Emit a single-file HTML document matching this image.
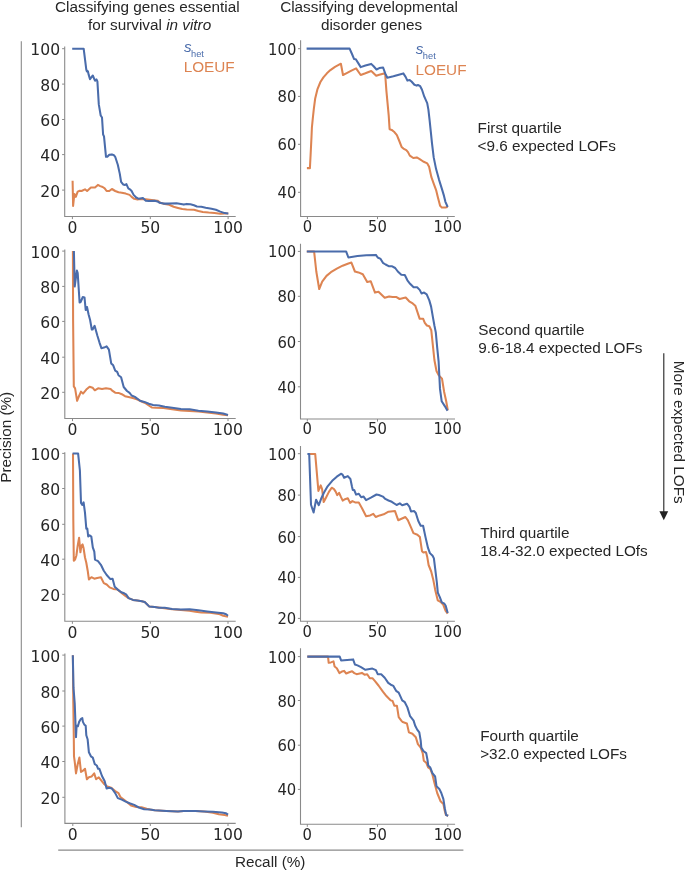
<!DOCTYPE html>
<html><head><meta charset="utf-8"><title>Precision-recall figure</title>
<style>
html,body{margin:0;padding:0;background:#fff;}
body{width:685px;height:871px;overflow:hidden;}
svg{display:block;}
.tk{font-family:"DejaVu Sans",sans-serif;font-size:14.8px;fill:#262626;}
.lb{font-family:"Liberation Sans",Arial,sans-serif;font-size:15.3px;fill:#262626;}
</style></head><body>
<svg width="685" height="871" viewBox="0 0 685 871">
<rect width="685" height="871" fill="#fff"/>
<g>
<path d="M64.7,46.6V216.5H235.7" fill="none" stroke="#8a8a8a" stroke-width="1.1"/>
<path d="M72.4,216.5v2.6M150.3,216.5v2.6M228.1,216.5v2.6M64.7,48.7h-2.6M64.7,84.1h-2.6M64.7,119.5h-2.6M64.7,154.6h-2.6M64.7,190.1h-2.6" stroke="#8a8a8a" stroke-width="1"/>
<text class="tk" transform="translate(72.4,233.3) scale(1,1.06)" style="font-size:15.6px" text-anchor="middle">0</text>
<text class="tk" transform="translate(150.3,233.3) scale(1,1.06)" style="font-size:15.6px" text-anchor="middle">50</text>
<text class="tk" transform="translate(228.1,233.3) scale(1,1.06)" style="font-size:15.6px" text-anchor="middle">100</text>
<text class="tk" transform="translate(60.1,55.2) scale(1,1.06)" style="font-size:15.6px" text-anchor="end">100</text>
<text class="tk" transform="translate(60.1,90.6) scale(1,1.06)" style="font-size:15.6px" text-anchor="end">80</text>
<text class="tk" transform="translate(60.1,126.0) scale(1,1.06)" style="font-size:15.6px" text-anchor="end">60</text>
<text class="tk" transform="translate(60.1,161.1) scale(1,1.06)" style="font-size:15.6px" text-anchor="end">40</text>
<text class="tk" transform="translate(60.1,196.6) scale(1,1.06)" style="font-size:15.6px" text-anchor="end">20</text>
<polyline points="72.6,180.8 73.1,206.0 74.4,194.0 75.8,196.9 77.7,191.6 79.8,190.7 81.5,191.0 85.0,189.3 87.1,191.0 90.9,187.5 95.0,187.5 97.9,184.9 100.2,186.1 102.7,187.0 104.7,188.3 106.6,191.0 109.3,191.0 111.9,189.0 115.2,191.0 118.5,192.3 121.8,192.7 125.7,193.6 129.6,194.9 131.6,196.9 134.2,198.8 137.5,199.5 140.0,198.9 145.8,199.2 151.7,199.9 157.5,200.7 160.4,202.8 164.8,203.9 169.2,204.7 173.6,206.8 178.0,208.0 182.3,209.1 186.7,209.4 194.0,209.7 198.4,210.9 202.8,211.9 208.6,212.6 214.5,213.1 220.3,213.8 224.7,213.5 228.3,213.4" fill="none" stroke="#DD8452" stroke-width="2.05" stroke-linejoin="round" stroke-linecap="butt"/>
<polyline points="72.2,48.8 83.7,48.8 86.3,69.6 86.9,71.5 87.9,71.3 88.6,74.4 90.0,79.2 91.3,77.4 92.8,75.5 94.4,79.4 95.2,80.7 96.5,79.4 97.4,81.4 98.8,104.4 100.7,115.5 102.0,117.5 103.1,134.5 104.0,136.4 106.0,156.8 107.3,156.8 109.3,154.8 111.9,154.4 113.9,155.2 115.2,156.8 117.8,164.7 119.8,173.9 121.1,181.8 123.1,184.4 125.0,185.0 126.4,184.1 128.3,188.3 130.3,189.6 131.6,191.0 133.6,194.9 136.2,197.5 138.8,198.8 142.9,198.0 145.8,200.7 148.8,201.0 154.6,200.7 157.5,201.4 159.7,202.8 163.4,203.6 169.2,203.6 176.5,203.3 180.9,203.9 183.8,204.6 186.7,203.9 190.4,204.3 194.0,205.3 196.9,206.5 201.3,206.8 205.7,207.7 211.5,208.7 215.9,209.7 220.3,211.6 224.7,213.1 228.3,213.4" fill="none" stroke="#4A6CAB" stroke-width="2.05" stroke-linejoin="round" stroke-linecap="butt"/>
</g>
<g>
<path d="M300.6,40.2V216.5H454.8" fill="none" stroke="#8a8a8a" stroke-width="1.1"/>
<path d="M307.4,216.5v2.6M377.5,216.5v2.6M447.7,216.5v2.6M300.6,48.7h-2.6M300.6,96.4h-2.6M300.6,144.3h-2.6M300.6,192.3h-2.6" stroke="#8a8a8a" stroke-width="1"/>
<text class="tk" transform="translate(307.4,231.9) scale(1,1.04)" style="font-size:14.8px" text-anchor="middle">0</text>
<text class="tk" transform="translate(377.5,231.9) scale(1,1.04)" style="font-size:14.8px" text-anchor="middle">50</text>
<text class="tk" transform="translate(447.7,231.9) scale(1,1.04)" style="font-size:14.8px" text-anchor="middle">100</text>
<text class="tk" transform="translate(296.3,54.7) scale(1,1.04)" style="font-size:14.8px" text-anchor="end">100</text>
<text class="tk" transform="translate(296.3,102.4) scale(1,1.04)" style="font-size:14.8px" text-anchor="end">80</text>
<text class="tk" transform="translate(296.3,150.3) scale(1,1.04)" style="font-size:14.8px" text-anchor="end">60</text>
<text class="tk" transform="translate(296.3,198.3) scale(1,1.04)" style="font-size:14.8px" text-anchor="end">40</text>
<polyline points="306.9,168.1 309.9,168.1 310.6,155.0 311.5,136.7 311.9,127.5 312.8,118.3 313.8,109.2 315.2,98.4 317.5,89.1 320.4,82.0 323.4,77.4 326.9,73.3 330.4,70.1 335.0,66.9 340.9,63.7 343.0,75.0 346.7,73.1 351.4,70.6 356.1,68.4 360.7,75.0 365.4,73.3 371.2,71.0 371.8,71.6 376.2,75.8 379.3,74.8 384.0,73.4 385.2,74.5 386.4,90.9 387.5,102.6 388.7,115.4 389.6,129.3 391.7,129.9 394.0,131.7 396.9,135.2 399.3,141.0 401.6,146.9 403.4,148.6 406.3,150.1 408.0,152.1 409.8,155.6 413.3,158.0 416.8,157.4 419.7,159.1 423.2,161.5 427.3,163.4 429.1,166.7 431.4,177.2 433.7,183.7 436.1,190.1 437.8,197.1 440.1,205.8 441.9,207.6 445.4,207.4 447.7,207.0" fill="none" stroke="#DD8452" stroke-width="2.05" stroke-linejoin="round" stroke-linecap="butt"/>
<polyline points="306.6,48.6 349.6,48.6 352.0,54.0 354.0,58.9 355.8,59.3 358.4,63.4 360.7,67.1 365.4,65.5 371.2,63.9 373.6,66.3 376.5,69.5 379.3,68.1 383.1,67.5 385.2,73.4 387.3,77.8 393.4,76.3 403.3,73.4 405.6,76.9 407.4,80.6 409.7,80.1 411.5,81.5 414.4,84.8 416.7,85.6 417.9,85.0 420.2,86.2 422.0,89.7 424.3,96.7 427.2,103.1 428.4,109.6 429.6,120.1 430.8,131.7 432.0,143.4 433.7,157.4 436.1,169.1 439.0,179.6 441.9,188.9 444.0,195.9 445.4,201.8 447.7,207.0" fill="none" stroke="#4A6CAB" stroke-width="2.05" stroke-linejoin="round" stroke-linecap="butt"/>
</g>
<g>
<path d="M64.8,249.6V418.5H235.7" fill="none" stroke="#8a8a8a" stroke-width="1.1"/>
<path d="M72.5,418.5v2.6M150.2,418.5v2.6M228.0,418.5v2.6M64.8,251.1h-2.6M64.8,286.4h-2.6M64.8,321.4h-2.6M64.8,357.2h-2.6M64.8,392.3h-2.6" stroke="#8a8a8a" stroke-width="1"/>
<text class="tk" transform="translate(72.5,435.3) scale(1,1.06)" style="font-size:15.6px" text-anchor="middle">0</text>
<text class="tk" transform="translate(150.2,435.3) scale(1,1.06)" style="font-size:15.6px" text-anchor="middle">50</text>
<text class="tk" transform="translate(228.0,435.3) scale(1,1.06)" style="font-size:15.6px" text-anchor="middle">100</text>
<text class="tk" transform="translate(60.2,257.6) scale(1,1.06)" style="font-size:15.6px" text-anchor="end">100</text>
<text class="tk" transform="translate(60.2,292.9) scale(1,1.06)" style="font-size:15.6px" text-anchor="end">80</text>
<text class="tk" transform="translate(60.2,327.9) scale(1,1.06)" style="font-size:15.6px" text-anchor="end">60</text>
<text class="tk" transform="translate(60.2,363.7) scale(1,1.06)" style="font-size:15.6px" text-anchor="end">40</text>
<text class="tk" transform="translate(60.2,398.8) scale(1,1.06)" style="font-size:15.6px" text-anchor="end">20</text>
<polyline points="72.9,251.1 73.1,320.0 73.8,386.4 75.1,388.3 77.1,400.8 78.4,397.5 81.0,391.6 83.0,393.6 86.3,389.6 89.6,386.7 92.6,387.7 94.8,390.3 98.1,388.3 102.0,389.0 106.0,388.3 110.6,389.0 112.6,390.9 115.2,392.7 118.5,392.9 121.8,394.2 125.0,396.2 129.6,397.3 133.6,398.2 137.5,399.5 141.5,401.5 145.8,403.4 148.8,405.5 151.7,407.4 156.1,407.7 163.4,408.0 172.1,409.2 180.9,410.4 189.6,410.9 198.4,411.4 207.2,412.4 215.9,413.6 223.2,414.7 228.0,415.3" fill="none" stroke="#DD8452" stroke-width="2.05" stroke-linejoin="round" stroke-linecap="butt"/>
<polyline points="73.9,251.1 74.7,286.5 76.9,270.5 77.7,273.0 79.6,302.5 80.6,302.0 82.8,297.0 84.5,297.4 85.7,310.0 87.0,307.0 88.6,314.5 90.1,320.0 91.8,329.5 92.6,329.5 94.6,325.8 97.4,335.8 99.4,342.3 101.4,348.2 104.0,347.6 106.6,346.3 108.9,349.6 111.2,363.4 113.2,365.3 115.2,370.6 117.2,371.9 118.5,375.2 121.1,377.2 123.7,387.0 127.0,391.0 129.6,392.9 131.6,395.5 134.9,396.9 137.5,398.8 140.1,400.8 144.4,401.9 148.8,403.8 153.1,405.1 159.0,405.5 164.8,406.7 172.1,407.7 180.9,408.9 189.6,409.2 198.4,410.7 207.2,411.4 215.9,412.4 223.2,413.6 228.0,415.0" fill="none" stroke="#4A6CAB" stroke-width="2.05" stroke-linejoin="round" stroke-linecap="butt"/>
</g>
<g>
<path d="M300.5,243.8V419.0H455.0" fill="none" stroke="#8a8a8a" stroke-width="1.1"/>
<path d="M307.3,419.0v2.6M377.5,419.0v2.6M447.5,419.0v2.6M300.5,251.4h-2.6M300.5,296.3h-2.6M300.5,341.5h-2.6M300.5,386.8h-2.6" stroke="#8a8a8a" stroke-width="1"/>
<text class="tk" transform="translate(307.3,434.4) scale(1,1.04)" style="font-size:14.8px" text-anchor="middle">0</text>
<text class="tk" transform="translate(377.5,434.4) scale(1,1.04)" style="font-size:14.8px" text-anchor="middle">50</text>
<text class="tk" transform="translate(447.5,434.4) scale(1,1.04)" style="font-size:14.8px" text-anchor="middle">100</text>
<text class="tk" transform="translate(296.2,257.4) scale(1,1.04)" style="font-size:14.8px" text-anchor="end">100</text>
<text class="tk" transform="translate(296.2,302.3) scale(1,1.04)" style="font-size:14.8px" text-anchor="end">80</text>
<text class="tk" transform="translate(296.2,347.5) scale(1,1.04)" style="font-size:14.8px" text-anchor="end">60</text>
<text class="tk" transform="translate(296.2,392.8) scale(1,1.04)" style="font-size:14.8px" text-anchor="end">40</text>
<polyline points="306.8,251.4 314.1,251.4 316.3,271.5 319.2,289.0 322.2,281.7 326.5,275.9 330.9,272.2 336.8,268.6 342.6,265.7 348.4,263.5 351.4,262.6 354.9,271.5 358.4,272.4 362.8,274.2 367.2,282.0 370.7,281.2 375.0,292.6 378.5,291.7 384.7,297.8 389.1,296.4 392.6,296.9 396.1,296.9 399.6,299.0 405.7,297.5 409.2,301.3 412.7,303.4 415.3,305.7 419.7,318.8 423.2,318.8 424.8,322.8 426.9,325.5 429.3,326.2 431.3,330.3 433.1,347.6 434.4,360.0 436.5,371.0 438.6,375.1 442.0,378.6 444.1,391.7 446.2,401.3 447.8,410.3" fill="none" stroke="#DD8452" stroke-width="2.05" stroke-linejoin="round" stroke-linecap="butt"/>
<polyline points="306.8,251.4 346.1,251.4 348.4,257.5 357.5,256.1 366.3,255.2 375.9,254.9 377.7,257.5 380.6,258.9 382.9,262.8 385.6,264.5 389.1,266.3 392.2,266.3 395.2,268.0 397.8,271.5 401.3,274.7 404.8,275.0 407.4,280.3 410.1,283.8 413.6,287.3 417.1,287.3 419.7,289.9 421.5,293.4 424.1,292.6 426.7,294.3 429.3,300.4 431.1,306.6 432.9,317.1 434.5,326.0 435.8,332.4 437.2,347.6 438.6,361.3 439.3,375.1 440.0,388.9 441.7,401.3 444.8,406.1 447.5,410.7" fill="none" stroke="#4A6CAB" stroke-width="2.05" stroke-linejoin="round" stroke-linecap="butt"/>
</g>
<g>
<path d="M64.8,452.2V621.2H235.7" fill="none" stroke="#8a8a8a" stroke-width="1.1"/>
<path d="M72.4,621.2v2.6M150.3,621.2v2.6M228.0,621.2v2.6M64.8,453.4h-2.6M64.8,488.5h-2.6M64.8,524.3h-2.6M64.8,559.2h-2.6M64.8,594.3h-2.6" stroke="#8a8a8a" stroke-width="1"/>
<text class="tk" transform="translate(72.4,638.0) scale(1,1.06)" style="font-size:15.6px" text-anchor="middle">0</text>
<text class="tk" transform="translate(150.3,638.0) scale(1,1.06)" style="font-size:15.6px" text-anchor="middle">50</text>
<text class="tk" transform="translate(228.0,638.0) scale(1,1.06)" style="font-size:15.6px" text-anchor="middle">100</text>
<text class="tk" transform="translate(60.2,459.9) scale(1,1.06)" style="font-size:15.6px" text-anchor="end">100</text>
<text class="tk" transform="translate(60.2,495.0) scale(1,1.06)" style="font-size:15.6px" text-anchor="end">80</text>
<text class="tk" transform="translate(60.2,530.8) scale(1,1.06)" style="font-size:15.6px" text-anchor="end">60</text>
<text class="tk" transform="translate(60.2,565.7) scale(1,1.06)" style="font-size:15.6px" text-anchor="end">40</text>
<text class="tk" transform="translate(60.2,600.8) scale(1,1.06)" style="font-size:15.6px" text-anchor="end">20</text>
<polyline points="73.0,453.4 73.3,519.4 73.8,560.8 75.1,559.5 76.4,555.5 77.7,545.7 79.1,537.8 80.4,552.3 81.4,545.7 82.6,544.4 83.6,548.3 85.0,557.5 86.3,562.8 87.7,570.7 88.9,579.4 91.4,577.2 94.3,578.7 97.2,577.9 100.9,577.2 103.8,583.1 106.7,584.5 109.6,587.4 113.3,588.9 117.7,589.6 122.8,594.0 125.7,596.2 128.6,598.1 133.0,599.9 137.4,600.6 141.8,601.3 144.7,602.0 149.1,606.4 154.6,607.0 172.1,609.2 180.9,609.9 189.6,610.7 195.5,611.8 201.3,612.4 210.1,612.8 218.8,613.9 223.2,615.8 228.0,616.8" fill="none" stroke="#DD8452" stroke-width="2.05" stroke-linejoin="round" stroke-linecap="butt"/>
<polyline points="72.6,453.4 78.1,453.4 79.9,470.5 81.0,503.0 82.3,505.0 83.6,502.3 85.0,512.8 86.3,528.6 87.3,528.6 88.2,536.5 89.6,535.2 91.3,536.5 92.8,547.3 94.3,551.7 95.0,559.7 98.0,561.2 100.9,564.8 103.8,570.7 106.7,575.0 110.4,579.1 112.6,578.7 114.7,586.7 117.7,589.6 121.3,592.3 124.2,593.3 126.4,594.7 128.6,598.1 133.0,599.9 137.4,600.6 141.8,601.3 144.7,602.0 149.1,606.4 154.6,607.0 159.0,607.7 164.8,607.7 172.1,608.9 180.9,609.5 189.6,609.2 198.4,610.2 207.2,611.4 215.9,612.4 223.2,613.3 226.1,614.3 228.0,615.8" fill="none" stroke="#4A6CAB" stroke-width="2.05" stroke-linejoin="round" stroke-linecap="butt"/>
</g>
<g>
<path d="M300.5,446.0V621.3H454.9" fill="none" stroke="#8a8a8a" stroke-width="1.1"/>
<path d="M307.3,621.3v2.6M377.5,621.3v2.6M447.7,621.3v2.6M300.5,453.7h-2.6M300.5,495.1h-2.6M300.5,536.6h-2.6M300.5,577.4h-2.6M300.5,618.4h-2.6" stroke="#8a8a8a" stroke-width="1"/>
<text class="tk" transform="translate(307.3,636.7) scale(1,1.04)" style="font-size:14.8px" text-anchor="middle">0</text>
<text class="tk" transform="translate(377.5,636.7) scale(1,1.04)" style="font-size:14.8px" text-anchor="middle">50</text>
<text class="tk" transform="translate(447.7,636.7) scale(1,1.04)" style="font-size:14.8px" text-anchor="middle">100</text>
<text class="tk" transform="translate(296.2,459.7) scale(1,1.04)" style="font-size:14.8px" text-anchor="end">100</text>
<text class="tk" transform="translate(296.2,501.1) scale(1,1.04)" style="font-size:14.8px" text-anchor="end">80</text>
<text class="tk" transform="translate(296.2,542.6) scale(1,1.04)" style="font-size:14.8px" text-anchor="end">60</text>
<text class="tk" transform="translate(296.2,583.4) scale(1,1.04)" style="font-size:14.8px" text-anchor="end">40</text>
<text class="tk" transform="translate(296.2,624.4) scale(1,1.04)" style="font-size:14.8px" text-anchor="end">20</text>
<polyline points="309.2,453.9 315.2,453.9 318.4,490.9 320.7,485.4 322.1,489.1 323.7,502.0 325.7,498.3 328.9,491.9 331.7,487.7 334.0,489.1 335.8,491.9 337.2,495.1 339.1,492.8 340.9,496.9 342.7,500.6 345.0,499.2 347.8,498.3 350.1,502.9 352.4,501.1 355.1,502.4 358.8,502.6 362.0,508.2 366.1,516.2 370.1,515.4 373.3,513.8 375.7,517.0 379.7,515.4 383.7,514.3 388.5,511.7 395.0,511.1 398.2,520.2 405.4,517.0 407.8,520.2 411.0,527.4 413.4,533.1 417.4,534.7 419.9,537.1 422.0,551.2 423.4,552.5 426.0,552.1 427.3,557.1 428.6,565.0 431.2,571.5 433.2,579.4 435.2,589.9 437.8,600.4 440.4,601.8 443.1,604.4 445.7,611.0 447.7,613.6" fill="none" stroke="#DD8452" stroke-width="2.05" stroke-linejoin="round" stroke-linecap="butt"/>
<polyline points="307.4,453.9 309.2,453.9 311.0,504.7 313.6,512.5 316.1,499.7 318.8,505.2 321.1,498.8 323.9,492.8 327.6,486.3 332.2,480.8 336.8,476.7 341.3,473.7 342.7,474.9 344.1,477.8 347.8,476.1 350.4,479.0 351.9,486.3 352.8,490.0 354.2,490.0 356.1,494.6 358.8,493.7 361.2,497.3 363.6,496.6 366.1,500.1 370.9,497.7 376.5,494.5 378.9,495.0 382.9,496.6 385.3,498.9 388.5,500.5 391.8,501.8 396.6,505.0 399.8,503.4 402.2,505.3 407.0,503.7 409.4,506.6 411.0,511.4 414.2,511.1 415.8,513.0 418.3,521.0 420.7,525.8 423.1,525.8 425.5,537.1 428.0,547.9 429.9,553.1 432.6,555.8 433.9,558.4 435.2,568.9 436.8,582.0 437.8,592.6 439.8,597.2 441.8,602.4 444.4,603.7 445.7,605.7 447.7,612.9" fill="none" stroke="#4A6CAB" stroke-width="2.05" stroke-linejoin="round" stroke-linecap="butt"/>
</g>
<g>
<path d="M64.9,653.4V823.4H235.7" fill="none" stroke="#8a8a8a" stroke-width="1.1"/>
<path d="M72.8,823.4v2.6M150.3,823.4v2.6M228.0,823.4v2.6M64.9,655.1h-2.6M64.9,691.0h-2.6M64.9,726.1h-2.6M64.9,761.5h-2.6M64.9,797.3h-2.6" stroke="#8a8a8a" stroke-width="1"/>
<text class="tk" transform="translate(72.8,840.2) scale(1,1.06)" style="font-size:15.6px" text-anchor="middle">0</text>
<text class="tk" transform="translate(150.3,840.2) scale(1,1.06)" style="font-size:15.6px" text-anchor="middle">50</text>
<text class="tk" transform="translate(228.0,840.2) scale(1,1.06)" style="font-size:15.6px" text-anchor="middle">100</text>
<text class="tk" transform="translate(60.3,661.6) scale(1,1.06)" style="font-size:15.6px" text-anchor="end">100</text>
<text class="tk" transform="translate(60.3,697.5) scale(1,1.06)" style="font-size:15.6px" text-anchor="end">80</text>
<text class="tk" transform="translate(60.3,732.6) scale(1,1.06)" style="font-size:15.6px" text-anchor="end">60</text>
<text class="tk" transform="translate(60.3,768.0) scale(1,1.06)" style="font-size:15.6px" text-anchor="end">40</text>
<text class="tk" transform="translate(60.3,803.8) scale(1,1.06)" style="font-size:15.6px" text-anchor="end">20</text>
<polyline points="72.9,655.3 73.3,703.0 73.8,738.3 74.0,756.3 74.7,761.5 76.0,773.4 77.7,764.2 79.4,757.6 81.0,772.0 83.0,770.7 85.0,768.8 86.9,779.3 88.9,777.3 91.5,776.6 94.2,773.4 96.1,779.3 98.8,777.3 101.4,780.6 104.0,783.9 107.3,786.5 111.2,787.8 115.2,791.1 118.5,793.1 120.4,797.0 125.7,801.0 131.0,805.5 136.2,806.9 141.5,807.3 146.7,808.8 150.0,809.5 154.6,810.2 166.3,810.9 178.0,811.4 183.8,810.9 195.5,810.9 204.2,811.4 213.0,812.8 218.8,814.3 224.7,815.0 228.0,815.8" fill="none" stroke="#DD8452" stroke-width="2.05" stroke-linejoin="round" stroke-linecap="butt"/>
<polyline points="72.8,655.3 73.5,687.9 74.7,703.0 76.0,737.1 76.6,725.7 77.9,726.3 79.1,721.9 81.0,718.8 82.3,718.1 82.9,721.9 84.2,724.4 85.7,725.7 86.3,735.3 87.6,739.2 88.9,752.3 90.9,756.3 92.8,757.6 94.8,764.2 96.8,765.5 98.1,768.8 99.4,768.8 102.0,776.0 104.7,781.2 106.6,788.5 109.3,787.8 111.9,788.5 115.2,793.1 117.8,798.1 121.8,799.6 125.7,801.6 129.6,803.3 134.2,804.9 138.8,807.5 144.1,809.2 150.0,809.5 154.6,810.2 166.3,810.9 178.0,811.4 183.8,810.9 195.5,810.9 204.2,811.4 213.0,811.8 221.8,812.4 226.1,813.3 228.0,814.7" fill="none" stroke="#4A6CAB" stroke-width="2.05" stroke-linejoin="round" stroke-linecap="butt"/>
</g>
<g>
<path d="M300.5,648.2V824.2H455.1" fill="none" stroke="#8a8a8a" stroke-width="1.1"/>
<path d="M307.3,824.2v2.6M377.5,824.2v2.6M447.8,824.2v2.6M300.5,656.6h-2.6M300.5,700.5h-2.6M300.5,745.2h-2.6M300.5,789.4h-2.6" stroke="#8a8a8a" stroke-width="1"/>
<text class="tk" transform="translate(307.3,839.6) scale(1,1.04)" style="font-size:14.8px" text-anchor="middle">0</text>
<text class="tk" transform="translate(377.5,839.6) scale(1,1.04)" style="font-size:14.8px" text-anchor="middle">50</text>
<text class="tk" transform="translate(447.8,839.6) scale(1,1.04)" style="font-size:14.8px" text-anchor="middle">100</text>
<text class="tk" transform="translate(296.2,662.6) scale(1,1.04)" style="font-size:14.8px" text-anchor="end">100</text>
<text class="tk" transform="translate(296.2,706.5) scale(1,1.04)" style="font-size:14.8px" text-anchor="end">80</text>
<text class="tk" transform="translate(296.2,751.2) scale(1,1.04)" style="font-size:14.8px" text-anchor="end">60</text>
<text class="tk" transform="translate(296.2,795.4) scale(1,1.04)" style="font-size:14.8px" text-anchor="end">40</text>
<polyline points="307.3,656.6 328.0,656.6 328.7,662.8 330.9,662.4 333.5,661.4 334.6,666.5 336.8,668.2 339.4,673.1 341.9,671.6 344.1,670.9 346.2,673.5 349.2,672.3 352.1,671.2 354.3,673.1 356.6,674.2 361.9,672.9 364.5,674.7 367.2,674.2 369.8,678.2 372.4,678.2 375.0,681.2 378.5,685.5 382.9,691.7 386.4,696.1 390.8,700.4 392.6,701.0 394.3,705.7 396.9,705.7 398.7,717.1 401.3,720.6 402.7,722.1 406.9,723.4 408.9,732.4 412.4,733.8 415.8,737.2 417.9,744.1 420.7,747.6 422.7,753.1 423.8,760.7 426.2,762.7 428.2,767.5 430.3,768.9 432.4,774.4 434.4,782.7 437.2,793.0 440.6,801.3 443.4,804.1 444.8,811.0 445.9,815.1 448.2,815.8" fill="none" stroke="#DD8452" stroke-width="2.05" stroke-linejoin="round" stroke-linecap="butt"/>
<polyline points="307.3,656.6 339.7,656.6 341.1,660.4 353.1,659.4 354.9,664.5 357.5,665.4 361.0,667.2 365.4,669.8 372.4,668.6 375.9,670.1 377.7,674.2 381.2,674.2 384.7,677.7 388.2,682.9 390.8,684.7 393.4,685.9 396.1,690.8 398.7,692.6 402.2,700.4 404.8,702.2 407.4,707.4 410.1,716.2 413.6,720.6 415.1,725.5 417.2,729.6 419.3,732.4 420.7,740.7 421.3,747.6 423.4,751.0 426.2,753.1 427.5,760.0 428.2,765.5 430.3,767.5 432.4,773.1 435.1,776.5 436.5,786.2 439.3,788.9 441.3,793.0 443.4,799.2 444.8,808.2 446.2,815.1 448.2,815.8" fill="none" stroke="#4A6CAB" stroke-width="2.05" stroke-linejoin="round" stroke-linecap="butt"/>
</g>
<text class="lb" x="184.0" y="51.6" style="font-style:italic;fill:#4A6CAB">s</text><text class="lb" x="191.0" y="56.8" style="font-size:9.3px;fill:#4A6CAB">het</text><text class="lb" x="183.7" y="72.3" style="fill:#DD8452">LOEUF</text><text class="lb" x="415.8" y="53.8" style="font-style:italic;fill:#4A6CAB">s</text><text class="lb" x="422.8" y="58.6" style="font-size:9.3px;fill:#4A6CAB">het</text><text class="lb" x="415.5" y="74.5" style="fill:#DD8452">LOEUF</text><text class="lb" x="147.3" y="11.7" text-anchor="middle">Classifying genes essential</text><text class="lb" x="149.6" y="30.2" text-anchor="middle">for survival <tspan style="font-style:italic">in vitro</tspan></text><text class="lb" x="369.0" y="11.7" text-anchor="middle">Classifying developmental</text><text class="lb" x="371.5" y="30.2" text-anchor="middle">disorder genes</text><text class="lb" x="477.6" y="132.9">First quartile</text><text class="lb" x="477.6" y="150.8">&lt;9.6 expected LOFs</text><text class="lb" x="478.3" y="335.1">Second quartile</text><text class="lb" x="478.3" y="353.0">9.6-18.4 expected LOFs</text><text class="lb" x="480.2" y="538.2">Third quartile</text><text class="lb" x="480.2" y="556.1">18.4-32.0 expected LOfs</text><text class="lb" x="480.2" y="741.3">Fourth quartile</text><text class="lb" x="480.2" y="759.2">&gt;32.0 expected LOFs</text><path d="M663.8,353.3V513" stroke="#222" stroke-width="1.1"/><path d="M659.4,511.3L668.2,511.3L663.8,520.2Z" fill="#222"/><text class="lb" transform="translate(673.6,360.8) rotate(90)">More expected LOFs</text><path d="M21.3,41.2V827.2" stroke="#8a8a8a" stroke-width="1.1"/><text class="lb" transform="translate(11.2,437.3) rotate(-90)" text-anchor="middle">Precision (%)</text><path d="M58.2,850.1H463.4" stroke="#8a8a8a" stroke-width="1.1"/><text class="lb" x="270.2" y="867.2" text-anchor="middle">Recall (%)</text></svg>
</body></html>
